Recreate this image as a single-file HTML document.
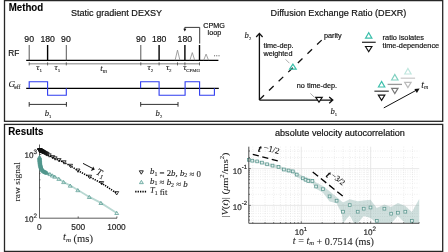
<!DOCTYPE html>
<html><head><meta charset="utf-8"><style>
html,body{margin:0;padding:0;background:#fff;width:448px;height:252px;overflow:hidden}
svg{display:block}
</style></head><body>
<svg width="448" height="252" viewBox="0 0 448 252">
<rect width="448" height="252" fill="#fff"/>
<rect x="4.5" y="0.6" width="438.2" height="120.7" fill="none" stroke="#262626" stroke-width="1.3"/>
<rect x="4.5" y="124.4" width="438.2" height="127.0" fill="none" stroke="#262626" stroke-width="1.3"/>
<text x="8.7" y="10.65" textLength="34.5" lengthAdjust="spacingAndGlyphs" style="font-family:'Liberation Sans',Arial,sans-serif;font-weight:bold;font-size:10.4px" fill="#000" stroke="#000" stroke-width="0.1">Method</text>
<text x="8.3" y="134.75" textLength="35.2" lengthAdjust="spacingAndGlyphs" style="font-family:'Liberation Sans',Arial,sans-serif;font-weight:bold;font-size:10.4px" fill="#000" stroke="#000" stroke-width="0.1">Results</text>
<text x="71" y="15.5" style="font-family:'Liberation Sans',Arial,sans-serif;font-size:9.05px" fill="#111" stroke="#111" stroke-width="0.18">Static gradient DEXSY</text>
<text x="270.6" y="15.7" style="font-family:'Liberation Sans',Arial,sans-serif;font-size:9.1px" fill="#111" stroke="#111" stroke-width="0.18">Diffusion Exchange Ratio (DEXR)</text>
<text x="275" y="136.2" style="font-family:'Liberation Sans',Arial,sans-serif;font-size:9.1px" fill="#111" stroke="#111" stroke-width="0.18">absolute velocity autocorrelation</text>
<g stroke="#000" fill="none">
<line x1="26.2" y1="60.4" x2="218.4" y2="60.4" stroke-width="1.3"/>
<line x1="26.2" y1="88.3" x2="218.8" y2="88.3" stroke-width="1.3"/>
<line x1="29.2" y1="45.0" x2="29.2" y2="60.4" stroke-width="0.9" stroke="#444"/>
<line x1="47.6" y1="45.0" x2="47.6" y2="60.4" stroke-width="1.4" stroke="#000"/>
<line x1="66.3" y1="45.0" x2="66.3" y2="60.4" stroke-width="0.9" stroke="#444"/>
<line x1="140.8" y1="45.0" x2="140.8" y2="60.4" stroke-width="0.9" stroke="#444"/>
<line x1="159.1" y1="45.0" x2="159.1" y2="60.4" stroke-width="1.4" stroke="#000"/>
<line x1="184.9" y1="45.0" x2="184.9" y2="60.4" stroke-width="1.4" stroke="#000"/>
<line x1="199.5" y1="45.0" x2="199.5" y2="60.4" stroke-width="1.4" stroke="#000"/>
</g>
<path d="M175.1,60.2 L177.5,50.1 L179.9,60.2" fill="none" stroke="#8a8a8a" stroke-width="0.8"/>
<path d="M189.9,60.2 L192.3,52.6 L194.70000000000002,60.2" fill="none" stroke="#8a8a8a" stroke-width="0.8"/>
<path d="M203.7,60.2 L206.1,54.1 L208.5,60.2" fill="none" stroke="#8a8a8a" stroke-width="0.8"/>
<circle cx="214.6" cy="55.7" r="0.55" fill="#333"/>
<circle cx="216.8" cy="55.7" r="0.55" fill="#333"/>
<circle cx="219.0" cy="55.7" r="0.55" fill="#333"/>
<text x="29.2" y="41.8" text-anchor="middle" style="font-family:'Liberation Sans',Arial,sans-serif;font-size:8.7px" fill="#111" stroke="#111" stroke-width="0.18">90</text>
<text x="47.7" y="41.8" text-anchor="middle" style="font-family:'Liberation Sans',Arial,sans-serif;font-size:8.7px" fill="#111" stroke="#111" stroke-width="0.18">180</text>
<text x="65.9" y="41.8" text-anchor="middle" style="font-family:'Liberation Sans',Arial,sans-serif;font-size:8.7px" fill="#111" stroke="#111" stroke-width="0.18">90</text>
<text x="140.9" y="41.8" text-anchor="middle" style="font-family:'Liberation Sans',Arial,sans-serif;font-size:8.7px" fill="#111" stroke="#111" stroke-width="0.18">90</text>
<text x="159.2" y="41.8" text-anchor="middle" style="font-family:'Liberation Sans',Arial,sans-serif;font-size:8.7px" fill="#111" stroke="#111" stroke-width="0.18">180</text>
<text x="184.8" y="41.8" text-anchor="middle" style="font-family:'Liberation Sans',Arial,sans-serif;font-size:8.7px" fill="#111" stroke="#111" stroke-width="0.18">180</text>
<text x="8.3" y="55.7" style="font-family:'Liberation Sans',Arial,sans-serif;font-size:8.3px" fill="#111" stroke="#111" stroke-width="0.18">RF</text>
<text x="8.4" y="87.3" style="font-family:'Liberation Serif','Times New Roman',serif;font-size:9.2px" fill="#1a1a1a" stroke="#1a1a1a" stroke-width="0.1"><tspan style="font-style:italic">G</tspan><tspan dx="-0.7" dy="1.5" style="font-size:5.6px">eff</tspan></text>
<path d="M199.7,43.6 V27.4 H184.8 V29.5" fill="none" stroke="#222" stroke-width="0.9"/>
<path d="M183.3,28.7 L184.8,31.6 L186.3,28.7 Z" fill="#111"/>
<text x="214" y="28" text-anchor="middle" style="font-family:'Liberation Sans',Arial,sans-serif;font-size:7.2px" fill="#111" stroke="#111" stroke-width="0.18">CPMG</text>
<text x="214.4" y="34.8" text-anchor="middle" style="font-family:'Liberation Sans',Arial,sans-serif;font-size:7.2px" fill="#111" stroke="#111" stroke-width="0.18">loop</text>
<line x1="29.2" y1="63.7" x2="199.5" y2="63.7" stroke="#ababab" stroke-width="1.5"/>
<line x1="29.2" y1="62.3" x2="29.2" y2="65.4" stroke="#444" stroke-width="0.8"/>
<line x1="47.6" y1="62.3" x2="47.6" y2="65.4" stroke="#444" stroke-width="0.8"/>
<line x1="66.3" y1="62.3" x2="66.3" y2="65.4" stroke="#444" stroke-width="0.8"/>
<line x1="140.8" y1="62.3" x2="140.8" y2="65.4" stroke="#444" stroke-width="0.8"/>
<line x1="159.1" y1="62.3" x2="159.1" y2="65.4" stroke="#444" stroke-width="0.8"/>
<line x1="177.5" y1="62.3" x2="177.5" y2="65.4" stroke="#444" stroke-width="0.8"/>
<line x1="184.9" y1="62.3" x2="184.9" y2="65.4" stroke="#444" stroke-width="0.8"/>
<line x1="199.5" y1="62.3" x2="199.5" y2="65.4" stroke="#444" stroke-width="0.8"/>
<text x="36.3" y="69.6" style="font-family:'Liberation Serif','Times New Roman',serif;font-size:8.6px" fill="#1a1a1a" stroke="#1a1a1a" stroke-width="0.1"><tspan style="font-style:italic">τ</tspan><tspan dy="2.0" style="font-size:5.0px">1</tspan><tspan dy="-2.0"></tspan></text>
<text x="54.6" y="69.6" style="font-family:'Liberation Serif','Times New Roman',serif;font-size:8.6px" fill="#1a1a1a" stroke="#1a1a1a" stroke-width="0.1"><tspan style="font-style:italic">τ</tspan><tspan dy="2.0" style="font-size:5.0px">1</tspan><tspan dy="-2.0"></tspan></text>
<text x="147.6" y="69.6" style="font-family:'Liberation Serif','Times New Roman',serif;font-size:8.6px" fill="#1a1a1a" stroke="#1a1a1a" stroke-width="0.1"><tspan style="font-style:italic">τ</tspan><tspan dy="2.0" style="font-size:5.0px">2</tspan><tspan dy="-2.0"></tspan></text>
<text x="166.0" y="69.6" style="font-family:'Liberation Serif','Times New Roman',serif;font-size:8.6px" fill="#1a1a1a" stroke="#1a1a1a" stroke-width="0.1"><tspan style="font-style:italic">τ</tspan><tspan dy="2.0" style="font-size:5.0px">2</tspan><tspan dy="-2.0"></tspan></text>
<text x="183.2" y="69.6" style="font-family:'Liberation Serif','Times New Roman',serif;font-size:8.6px" fill="#1a1a1a" stroke="#1a1a1a" stroke-width="0.1"><tspan style="font-style:italic">τ</tspan><tspan dy="2.0" style="font-size:4.8px">CPMG</tspan><tspan dy="-2.0"></tspan></text>
<text x="100.2" y="71.3" style="font-family:'Liberation Serif','Times New Roman',serif;font-size:8.8px" fill="#1a1a1a" stroke="#1a1a1a" stroke-width="0.1"><tspan style="font-style:italic">t</tspan><tspan dy="1.3" style="font-size:5.8px;font-style:italic">m</tspan><tspan dy="-1.3"></tspan></text>
<path d="M29.2,88.3 V81.7 H47.6 V95.3 H66.3 V88.3" fill="none" stroke="#2f3cf0" stroke-width="1.1"/>
<path d="M140.6,88.3 V81.7 H159.1 V95.3 H185.1 V81.7 H199.6 V95.3 H214.4 V88.3" fill="none" stroke="#2f3cf0" stroke-width="1.1"/>
<path d="M29.2,104.4 H66.4 M29.2,102 V106.7 M66.4,102 V106.7" fill="none" stroke="#333" stroke-width="1.0"/>
<path d="M140.7,104.4 H178.0 M140.7,102 V106.7 M178.0,102 V106.7" fill="none" stroke="#333" stroke-width="1.0"/>
<text x="44.7" y="115.5" style="font-family:'Liberation Serif','Times New Roman',serif;font-size:8.6px" fill="#1a1a1a" stroke="#1a1a1a" stroke-width="0.1"><tspan style="font-style:italic">b</tspan><tspan dy="2.1" style="font-size:4.6px">1</tspan><tspan dy="-2.1"></tspan></text>
<text x="155.6" y="116.3" style="font-family:'Liberation Serif','Times New Roman',serif;font-size:8.6px" fill="#1a1a1a" stroke="#1a1a1a" stroke-width="0.1"><tspan style="font-style:italic">b</tspan><tspan dy="2.1" style="font-size:4.6px">2</tspan><tspan dy="-2.1"></tspan></text>
<g stroke="#111" fill="none" stroke-width="1.3">
<path d="M259.4,100.1 V33.6 M256.2,37.0 L259.4,33.4 L262.6,37.0"/>
<path d="M259.4,100.1 H332.6 M329.2,96.9 L332.8,100.1 L329.2,103.3"/>
<line x1="259.4" y1="99.7" x2="322.0" y2="39.8" stroke-dasharray="6.4 6.9"/>
</g>
<path d="M285.6,59.4 L289.4,63.2 M310.4,93.4 L314.4,97.3" stroke="#888" stroke-width="0.7" fill="none"/>
<path d="M289.60,69.20 L292.90,64.20 L296.20,69.20 Z" fill="none" stroke="#3cbfab" stroke-width="1.2"/>
<path d="M315.80,97.40 L319.00,102.20 L322.20,97.40 Z" fill="#fff" stroke="#111" stroke-width="1.2"/>
<text x="244.6" y="37.7" style="font-family:'Liberation Serif','Times New Roman',serif;font-size:8.6px" fill="#1a1a1a" stroke="#1a1a1a" stroke-width="0.1"><tspan style="font-style:italic">b</tspan><tspan dy="2.0" style="font-size:4.6px">2</tspan><tspan dy="-2.0"></tspan></text>
<text x="330.4" y="114.2" style="font-family:'Liberation Serif','Times New Roman',serif;font-size:8.6px" fill="#1a1a1a" stroke="#1a1a1a" stroke-width="0.1"><tspan style="font-style:italic">b</tspan><tspan dy="2.0" style="font-size:4.6px">1</tspan><tspan dy="-2.0"></tspan></text>
<text x="263.4" y="47.5" style="font-family:'Liberation Sans',Arial,sans-serif;font-size:7.25px" fill="#111" stroke="#111" stroke-width="0.18">time-dep.</text>
<text x="263.4" y="56.3" style="font-family:'Liberation Sans',Arial,sans-serif;font-size:7.25px" fill="#111" stroke="#111" stroke-width="0.18">weighted</text>
<text x="324.0" y="37.9" style="font-family:'Liberation Sans',Arial,sans-serif;font-size:7.25px" fill="#111" stroke="#111" stroke-width="0.18">parity</text>
<text x="296.8" y="88.3" style="font-family:'Liberation Sans',Arial,sans-serif;font-size:7.25px" fill="#111" stroke="#111" stroke-width="0.18">no time-dep.</text>
<path d="M365.50,38.20 L368.70,32.60 L371.90,38.20 Z" fill="#fff" stroke="#3cbfab" stroke-width="1.2"/>
<line x1="362" y1="42.3" x2="375.7" y2="42.3" stroke="#333" stroke-width="1.3"/>
<path d="M365.50,46.50 L368.70,51.70 L371.90,46.50 Z" fill="#fff" stroke="#111" stroke-width="1.2"/>
<text x="382.6" y="40.1" style="font-family:'Liberation Sans',Arial,sans-serif;font-size:7.38px" fill="#111" stroke="#111" stroke-width="0.18">ratio isolates</text>
<text x="382.6" y="48.2" style="font-family:'Liberation Sans',Arial,sans-serif;font-size:7.32px" fill="#111" stroke="#111" stroke-width="0.18">time-dependence</text>
<path d="M378.40,87.00 L381.60,81.40 L384.80,87.00 Z" fill="#fff" stroke="#3cbfab" stroke-width="1.2"/>
<line x1="374.40000000000003" y1="91.2" x2="388.8" y2="91.2" stroke="#444" stroke-width="1.3"/>
<path d="M378.40,95.20 L381.60,100.40 L384.80,95.20 Z" fill="#fff" stroke="#111" stroke-width="1.2"/>
<path d="M391.60,80.00 L394.80,74.40 L398.00,80.00 Z" fill="#fff" stroke="#7fd0c0" stroke-width="1.2"/>
<line x1="387.6" y1="84.4" x2="402.0" y2="84.4" stroke="#999" stroke-width="1.3"/>
<path d="M391.60,88.30 L394.80,93.50 L398.00,88.30 Z" fill="#fff" stroke="#777" stroke-width="1.2"/>
<path d="M404.70,74.00 L407.90,68.40 L411.10,74.00 Z" fill="#fff" stroke="#bfe6de" stroke-width="1.2"/>
<line x1="400.7" y1="78.2" x2="415.09999999999997" y2="78.2" stroke="#ccc" stroke-width="1.3"/>
<path d="M404.70,82.40 L407.90,87.60 L411.10,82.40 Z" fill="#fff" stroke="#bbb" stroke-width="1.2"/>
<path d="M383.8,107.9 L418.0,89.3" stroke="#111" stroke-width="1.0" fill="none"/>
<path d="M419.6,88.4 L414.4,89.0 L416.9,93.0 Z" fill="#111"/>
<text x="421.3" y="87.8" style="font-family:'Liberation Serif','Times New Roman',serif;font-size:9.9px" fill="#1a1a1a" stroke="#1a1a1a" stroke-width="0.1"><tspan style="font-style:italic">t</tspan><tspan dy="1.3" style="font-size:5.9px;font-style:italic">m</tspan><tspan dy="-1.3"></tspan></text>
<path d="M39.5,144.5 V218.2 H117.0" fill="none" stroke="#404040" stroke-width="0.85"/>
<path d="M39.5,154.4 h1.8 M78.2,218.2 v-1.8 M116.9,218.2 v-1.8" stroke="#262626" stroke-width="0.7"/>
<line x1="39.5" y1="198.99" x2="40.5" y2="198.99" stroke="#262626" stroke-width="0.6"/>
<line x1="39.5" y1="187.76" x2="40.5" y2="187.76" stroke="#262626" stroke-width="0.6"/>
<line x1="39.5" y1="179.79" x2="40.5" y2="179.79" stroke="#262626" stroke-width="0.6"/>
<line x1="39.5" y1="173.61" x2="40.5" y2="173.61" stroke="#262626" stroke-width="0.6"/>
<line x1="39.5" y1="168.55" x2="40.5" y2="168.55" stroke="#262626" stroke-width="0.6"/>
<line x1="39.5" y1="164.28" x2="40.5" y2="164.28" stroke="#262626" stroke-width="0.6"/>
<line x1="39.5" y1="160.58" x2="40.5" y2="160.58" stroke="#262626" stroke-width="0.6"/>
<line x1="39.5" y1="157.32" x2="40.5" y2="157.32" stroke="#262626" stroke-width="0.6"/>
<text x="24.6" y="158.4" style="font-family:'Liberation Sans',Arial,sans-serif;text-rendering:geometricPrecision;font-size:8.1px" fill="#262626" stroke="#262626" stroke-width="0.18">10<tspan dy="-4.2" style="font-size:6.3px">3</tspan></text>
<text x="24.6" y="221.9" style="font-family:'Liberation Sans',Arial,sans-serif;text-rendering:geometricPrecision;font-size:8.1px" fill="#262626" stroke="#262626" stroke-width="0.18">10<tspan dy="-4.2" style="font-size:6.3px">2</tspan></text>
<text x="39.2" y="230.0" text-anchor="middle" style="font-family:'Liberation Sans',Arial,sans-serif;font-size:8.3px" fill="#262626" stroke="#262626" stroke-width="0.18">0</text>
<text x="78.2" y="230.0" text-anchor="middle" style="font-family:'Liberation Sans',Arial,sans-serif;font-size:8.3px" fill="#262626" stroke="#262626" stroke-width="0.18">500</text>
<text x="116.4" y="230.0" text-anchor="middle" style="font-family:'Liberation Sans',Arial,sans-serif;font-size:8.3px" fill="#262626" stroke="#262626" stroke-width="0.18">1000</text>
<text x="63.0" y="240.3" textLength="29.9" lengthAdjust="spacingAndGlyphs" style="font-family:'Liberation Serif','Times New Roman',serif;font-size:9.4px" fill="#262626" stroke="#262626" stroke-width="0.1"><tspan style="font-style:italic">t</tspan><tspan dy="1.4" style="font-size:6.2px;font-style:italic">m</tspan><tspan dy="-1.4"></tspan> (ms)</text>
<text x="0" y="0" textLength="39.3" lengthAdjust="spacingAndGlyphs" transform="translate(20.4,201.4) rotate(-90)" style="font-family:'Liberation Serif','Times New Roman',serif;font-size:9.0px" fill="#262626" stroke="#262626" stroke-width="0.1">raw signal</text>
<polyline points="39.5,157.0 39.7,160 40.0,163 40.6,166 41.5,168.4 42.8,170.3 44.5,171.6 46.9,172.7 49.9,174.0 52.3,175.4 54.7,176.6 58.8,178.8 63.6,182.0 70.2,185.6 77.8,190.1 89.3,196.9 100.9,202.9 116.7,212.9" fill="none" stroke="#b8d8d2" stroke-width="1.8"/>
<path d="M37.55,158.60 L39.50,155.40 L41.45,158.60 Z" fill="none" stroke="#4f958b" stroke-width="0.8"/>
<path d="M37.60,159.29 L39.55,156.09 L41.50,159.29 Z" fill="none" stroke="#4f958b" stroke-width="0.8"/>
<path d="M37.64,159.98 L39.59,156.78 L41.54,159.98 Z" fill="none" stroke="#4f958b" stroke-width="0.8"/>
<path d="M37.69,160.68 L39.64,157.48 L41.59,160.68 Z" fill="none" stroke="#4f958b" stroke-width="0.8"/>
<path d="M37.73,161.37 L39.68,158.17 L41.63,161.37 Z" fill="none" stroke="#4f958b" stroke-width="0.8"/>
<path d="M37.80,162.06 L39.75,158.86 L41.70,162.06 Z" fill="none" stroke="#4f958b" stroke-width="0.8"/>
<path d="M37.86,162.75 L39.81,159.55 L41.76,162.75 Z" fill="none" stroke="#4f958b" stroke-width="0.8"/>
<path d="M37.93,163.44 L39.88,160.24 L41.83,163.44 Z" fill="none" stroke="#4f958b" stroke-width="0.8"/>
<path d="M38.00,164.13 L39.95,160.93 L41.90,164.13 Z" fill="none" stroke="#4f958b" stroke-width="0.8"/>
<path d="M38.09,164.82 L40.04,161.62 L41.99,164.82 Z" fill="none" stroke="#4f958b" stroke-width="0.8"/>
<path d="M38.23,165.50 L40.18,162.30 L42.13,165.50 Z" fill="none" stroke="#4f958b" stroke-width="0.8"/>
<path d="M38.37,166.18 L40.32,162.98 L42.27,166.18 Z" fill="none" stroke="#4f958b" stroke-width="0.8"/>
<path d="M38.50,166.86 L40.45,163.66 L42.40,166.86 Z" fill="none" stroke="#4f958b" stroke-width="0.8"/>
<path d="M38.64,167.54 L40.59,164.34 L42.54,167.54 Z" fill="none" stroke="#4f958b" stroke-width="0.8"/>
<path d="M38.87,168.19 L40.82,164.99 L42.77,168.19 Z" fill="none" stroke="#4f958b" stroke-width="0.8"/>
<path d="M39.11,168.84 L41.06,165.64 L43.01,168.84 Z" fill="none" stroke="#4f958b" stroke-width="0.8"/>
<path d="M39.36,169.49 L41.31,166.29 L43.26,169.49 Z" fill="none" stroke="#4f958b" stroke-width="0.8"/>
<path d="M39.63,170.12 L41.58,166.92 L43.53,170.12 Z" fill="none" stroke="#4f958b" stroke-width="0.8"/>
<path d="M40.02,170.69 L41.97,167.49 L43.92,170.69 Z" fill="none" stroke="#4f958b" stroke-width="0.8"/>
<path d="M40.42,171.27 L42.37,168.07 L44.32,171.27 Z" fill="none" stroke="#4f958b" stroke-width="0.8"/>
<path d="M40.81,171.84 L42.76,168.64 L44.71,171.84 Z" fill="none" stroke="#4f958b" stroke-width="0.8"/>
<path d="M41.34,172.28 L43.29,169.08 L45.24,172.28 Z" fill="none" stroke="#4f958b" stroke-width="0.8"/>
<path d="M41.89,172.70 L43.84,169.50 L45.79,172.70 Z" fill="none" stroke="#4f958b" stroke-width="0.8"/>
<path d="M42.44,173.12 L44.39,169.92 L46.34,173.12 Z" fill="none" stroke="#4f958b" stroke-width="0.8"/>
<path d="M43.06,173.43 L45.01,170.23 L46.96,173.43 Z" fill="none" stroke="#4f958b" stroke-width="0.8"/>
<path d="M43.69,173.72 L45.64,170.52 L47.59,173.72 Z" fill="none" stroke="#4f958b" stroke-width="0.8"/>
<path d="M44.32,174.01 L46.27,170.81 L48.22,174.01 Z" fill="none" stroke="#4f958b" stroke-width="0.8"/>
<path d="M44.95,174.30 L46.90,171.10 L48.85,174.30 Z" fill="none" stroke="#4f958b" stroke-width="0.8"/>
<path d="M47.95,175.60 L49.90,172.40 L51.85,175.60 Z" fill="none" stroke="#5a9c93" stroke-width="0.75"/>
<path d="M50.35,177.00 L52.30,173.80 L54.25,177.00 Z" fill="none" stroke="#5a9c93" stroke-width="0.75"/>
<path d="M52.75,178.20 L54.70,175.00 L56.65,178.20 Z" fill="none" stroke="#5a9c93" stroke-width="0.75"/>
<path d="M56.85,180.40 L58.80,177.20 L60.75,180.40 Z" fill="none" stroke="#5a9c93" stroke-width="0.75"/>
<path d="M61.65,183.60 L63.60,180.40 L65.55,183.60 Z" fill="none" stroke="#5a9c93" stroke-width="0.75"/>
<path d="M68.25,187.20 L70.20,184.00 L72.15,187.20 Z" fill="none" stroke="#5a9c93" stroke-width="0.75"/>
<path d="M75.85,191.70 L77.80,188.50 L79.75,191.70 Z" fill="none" stroke="#5a9c93" stroke-width="0.75"/>
<path d="M87.35,198.50 L89.30,195.30 L91.25,198.50 Z" fill="none" stroke="#5a9c93" stroke-width="0.75"/>
<path d="M98.95,204.50 L100.90,201.30 L102.85,204.50 Z" fill="none" stroke="#5a9c93" stroke-width="0.75"/>
<path d="M114.75,214.50 L116.70,211.30 L118.65,214.50 Z" fill="none" stroke="#5a9c93" stroke-width="0.75"/>
<polyline points="39.5,150.4 44,152.6 49.2,155.5 55.1,158.5 59.1,160.3 64.0,162.4 70.6,166.0 78,170.7 89.6,176.9 101.7,183.2 116.7,193.3" fill="none" stroke="#000" stroke-width="1.6" stroke-dasharray="1.3 1.1"/>
<path d="M37.58,148.74 L39.58,152.14 L41.58,148.74 Z" fill="none" stroke="#111" stroke-width="0.8"/>
<path d="M37.65,148.78 L39.65,152.18 L41.65,148.78 Z" fill="none" stroke="#111" stroke-width="0.8"/>
<path d="M37.73,148.81 L39.73,152.21 L41.73,148.81 Z" fill="none" stroke="#111" stroke-width="0.8"/>
<path d="M37.81,148.85 L39.81,152.25 L41.81,148.85 Z" fill="none" stroke="#111" stroke-width="0.8"/>
<path d="M37.89,148.89 L39.89,152.29 L41.89,148.89 Z" fill="none" stroke="#111" stroke-width="0.8"/>
<path d="M37.96,148.93 L39.96,152.33 L41.96,148.93 Z" fill="none" stroke="#111" stroke-width="0.8"/>
<path d="M38.04,148.96 L40.04,152.36 L42.04,148.96 Z" fill="none" stroke="#111" stroke-width="0.8"/>
<path d="M38.12,149.00 L40.12,152.40 L42.12,149.00 Z" fill="none" stroke="#111" stroke-width="0.8"/>
<path d="M38.27,149.08 L40.27,152.48 L42.27,149.08 Z" fill="none" stroke="#111" stroke-width="0.8"/>
<path d="M38.43,149.15 L40.43,152.55 L42.43,149.15 Z" fill="none" stroke="#111" stroke-width="0.8"/>
<path d="M38.58,149.23 L40.58,152.63 L42.58,149.23 Z" fill="none" stroke="#111" stroke-width="0.8"/>
<path d="M38.74,149.31 L40.74,152.71 L42.74,149.31 Z" fill="none" stroke="#111" stroke-width="0.8"/>
<path d="M38.89,149.38 L40.89,152.78 L42.89,149.38 Z" fill="none" stroke="#111" stroke-width="0.8"/>
<path d="M39.05,149.46 L41.05,152.86 L43.05,149.46 Z" fill="none" stroke="#111" stroke-width="0.8"/>
<path d="M39.28,149.57 L41.28,152.97 L43.28,149.57 Z" fill="none" stroke="#111" stroke-width="0.8"/>
<path d="M39.51,149.68 L41.51,153.08 L43.51,149.68 Z" fill="none" stroke="#111" stroke-width="0.8"/>
<path d="M39.82,149.84 L41.82,153.24 L43.82,149.84 Z" fill="none" stroke="#111" stroke-width="0.8"/>
<path d="M40.21,150.02 L42.21,153.42 L44.21,150.02 Z" fill="none" stroke="#111" stroke-width="0.8"/>
<path d="M40.60,150.21 L42.60,153.61 L44.60,150.21 Z" fill="none" stroke="#111" stroke-width="0.8"/>
<path d="M40.98,150.40 L42.98,153.80 L44.98,150.40 Z" fill="none" stroke="#111" stroke-width="0.8"/>
<path d="M41.37,150.59 L43.37,153.99 L45.37,150.59 Z" fill="none" stroke="#111" stroke-width="0.8"/>
<path d="M42.14,150.98 L44.14,154.38 L46.14,150.98 Z" fill="none" stroke="#111" stroke-width="0.8"/>
<path d="M42.92,151.41 L44.92,154.81 L46.92,151.41 Z" fill="none" stroke="#111" stroke-width="0.8"/>
<path d="M43.69,151.84 L45.69,155.24 L47.69,151.84 Z" fill="none" stroke="#111" stroke-width="0.8"/>
<path d="M44.47,152.28 L46.47,155.68 L48.47,152.28 Z" fill="none" stroke="#111" stroke-width="0.8"/>
<path d="M45.24,152.71 L47.24,156.11 L49.24,152.71 Z" fill="none" stroke="#111" stroke-width="0.8"/>
<path d="M47.20,153.80 L49.20,157.20 L51.20,153.80 Z" fill="none" stroke="#111" stroke-width="0.8"/>
<path d="M50.70,155.58 L52.70,158.98 L54.70,155.58 Z" fill="none" stroke="#111" stroke-width="0.8"/>
<path d="M53.10,156.80 L55.10,160.20 L57.10,156.80 Z" fill="none" stroke="#111" stroke-width="0.8"/>
<path d="M57.10,158.60 L59.10,162.00 L61.10,158.60 Z" fill="none" stroke="#111" stroke-width="0.8"/>
<path d="M62.10,160.75 L64.10,164.15 L66.10,160.75 Z" fill="none" stroke="#111" stroke-width="0.8"/>
<path d="M68.60,164.30 L70.60,167.70 L72.60,164.30 Z" fill="none" stroke="#111" stroke-width="0.8"/>
<path d="M76.00,169.00 L78.00,172.40 L80.00,169.00 Z" fill="none" stroke="#111" stroke-width="0.8"/>
<path d="M87.60,175.20 L89.60,178.60 L91.60,175.20 Z" fill="none" stroke="#111" stroke-width="0.8"/>
<path d="M99.70,181.50 L101.70,184.90 L103.70,181.50 Z" fill="none" stroke="#111" stroke-width="0.8"/>
<path d="M114.70,191.60 L116.70,195.00 L118.70,191.60 Z" fill="none" stroke="#111" stroke-width="0.8"/>
<path d="M83,163.4 L92.6,168.4" fill="none" stroke="#111" stroke-width="1.0"/>
<path d="M94.8,169.5 L90.9,170.9 L93.2,166.6 Z" fill="#111"/>
<text x="0" y="0" transform="translate(95.5,173.8) rotate(28)" style="font-family:'Liberation Serif','Times New Roman',serif;font-size:9.6px" fill="#111" stroke="#111" stroke-width="0.1"><tspan style="font-style:italic">T</tspan><tspan dy="1.8" style="font-size:6.0px">1</tspan><tspan dy="-1.8"></tspan></text>
<path d="M139.30,170.80 L141.30,174.20 L143.30,170.80 Z" fill="#fff" stroke="#111" stroke-width="0.9"/>
<path d="M139.45,183.65 L141.40,180.35 L143.35,183.65 Z" fill="#e6f2f0" stroke="#5c9f95" stroke-width="0.8"/>
<line x1="135.2" y1="191.6" x2="147.0" y2="191.6" stroke="#000" stroke-width="1.6" stroke-dasharray="1.3 1.1"/>
<text x="150" y="174.1" textLength="50.9" lengthAdjust="spacingAndGlyphs" style="font-family:'Liberation Serif','Times New Roman',serif;font-size:8.2px" fill="#1a1a1a" stroke="#1a1a1a" stroke-width="0.1"><tspan style="font-style:italic">b</tspan><tspan dy="1.4" style="font-size:5.4px">1</tspan><tspan dy="-1.4"></tspan> = 2<tspan style="font-style:italic">b</tspan>, <tspan style="font-style:italic">b</tspan><tspan dy="1.4" style="font-size:5.4px">2</tspan><tspan dy="-1.4"></tspan> ≈ 0</text>
<text x="150" y="183.7" textLength="37.8" lengthAdjust="spacingAndGlyphs" style="font-family:'Liberation Serif','Times New Roman',serif;font-size:8.2px" fill="#1a1a1a" stroke="#1a1a1a" stroke-width="0.1"><tspan style="font-style:italic">b</tspan><tspan dy="1.4" style="font-size:5.4px">1</tspan><tspan dy="-1.4"></tspan> ≈ <tspan style="font-style:italic">b</tspan><tspan dy="1.4" style="font-size:5.4px">2</tspan><tspan dy="-1.4"></tspan> ≈ <tspan style="font-style:italic">b</tspan></text>
<text x="150" y="193.2" textLength="17.3" lengthAdjust="spacingAndGlyphs" style="font-family:'Liberation Serif','Times New Roman',serif;font-size:8.2px" fill="#1a1a1a" stroke="#1a1a1a" stroke-width="0.1"><tspan style="font-style:italic">T</tspan><tspan dy="1.4" style="font-size:5.4px">1</tspan><tspan dy="-1.4"></tspan> fit</text>
<line x1="252.80" y1="146.7" x2="252.80" y2="223.3" stroke="#d6d6d6" stroke-width="0.6" stroke-dasharray="0.7 1.6"/>
<line x1="265.02" y1="146.7" x2="265.02" y2="223.3" stroke="#d6d6d6" stroke-width="0.6" stroke-dasharray="0.7 1.6"/>
<line x1="273.68" y1="146.7" x2="273.68" y2="223.3" stroke="#d6d6d6" stroke-width="0.6" stroke-dasharray="0.7 1.6"/>
<line x1="280.41" y1="146.7" x2="280.41" y2="223.3" stroke="#d6d6d6" stroke-width="0.6" stroke-dasharray="0.7 1.6"/>
<line x1="285.90" y1="146.7" x2="285.90" y2="223.3" stroke="#d6d6d6" stroke-width="0.6" stroke-dasharray="0.7 1.6"/>
<line x1="290.54" y1="146.7" x2="290.54" y2="223.3" stroke="#d6d6d6" stroke-width="0.6" stroke-dasharray="0.7 1.6"/>
<line x1="294.57" y1="146.7" x2="294.57" y2="223.3" stroke="#d6d6d6" stroke-width="0.6" stroke-dasharray="0.7 1.6"/>
<line x1="298.12" y1="146.7" x2="298.12" y2="223.3" stroke="#d6d6d6" stroke-width="0.6" stroke-dasharray="0.7 1.6"/>
<line x1="301.29" y1="146.7" x2="301.29" y2="223.3" stroke="#e2e2e2" stroke-width="0.8"/>
<line x1="322.17" y1="146.7" x2="322.17" y2="223.3" stroke="#d6d6d6" stroke-width="0.6" stroke-dasharray="0.7 1.6"/>
<line x1="334.39" y1="146.7" x2="334.39" y2="223.3" stroke="#d6d6d6" stroke-width="0.6" stroke-dasharray="0.7 1.6"/>
<line x1="343.06" y1="146.7" x2="343.06" y2="223.3" stroke="#d6d6d6" stroke-width="0.6" stroke-dasharray="0.7 1.6"/>
<line x1="349.78" y1="146.7" x2="349.78" y2="223.3" stroke="#d6d6d6" stroke-width="0.6" stroke-dasharray="0.7 1.6"/>
<line x1="355.27" y1="146.7" x2="355.27" y2="223.3" stroke="#d6d6d6" stroke-width="0.6" stroke-dasharray="0.7 1.6"/>
<line x1="359.92" y1="146.7" x2="359.92" y2="223.3" stroke="#d6d6d6" stroke-width="0.6" stroke-dasharray="0.7 1.6"/>
<line x1="363.94" y1="146.7" x2="363.94" y2="223.3" stroke="#d6d6d6" stroke-width="0.6" stroke-dasharray="0.7 1.6"/>
<line x1="367.49" y1="146.7" x2="367.49" y2="223.3" stroke="#d6d6d6" stroke-width="0.6" stroke-dasharray="0.7 1.6"/>
<line x1="370.66" y1="146.7" x2="370.66" y2="223.3" stroke="#e2e2e2" stroke-width="0.8"/>
<line x1="391.55" y1="146.7" x2="391.55" y2="223.3" stroke="#d6d6d6" stroke-width="0.6" stroke-dasharray="0.7 1.6"/>
<line x1="403.76" y1="146.7" x2="403.76" y2="223.3" stroke="#d6d6d6" stroke-width="0.6" stroke-dasharray="0.7 1.6"/>
<line x1="412.43" y1="146.7" x2="412.43" y2="223.3" stroke="#d6d6d6" stroke-width="0.6" stroke-dasharray="0.7 1.6"/>
<line x1="248.8" y1="220.04" x2="419.2" y2="220.04" stroke="#d6d6d6" stroke-width="0.6" stroke-dasharray="0.7 1.6"/>
<line x1="248.8" y1="216.48" x2="419.2" y2="216.48" stroke="#d6d6d6" stroke-width="0.6" stroke-dasharray="0.7 1.6"/>
<line x1="248.8" y1="213.56" x2="419.2" y2="213.56" stroke="#d6d6d6" stroke-width="0.6" stroke-dasharray="0.7 1.6"/>
<line x1="248.8" y1="211.10" x2="419.2" y2="211.10" stroke="#d6d6d6" stroke-width="0.6" stroke-dasharray="0.7 1.6"/>
<line x1="248.8" y1="208.97" x2="419.2" y2="208.97" stroke="#d6d6d6" stroke-width="0.6" stroke-dasharray="0.7 1.6"/>
<line x1="248.8" y1="207.08" x2="419.2" y2="207.08" stroke="#d6d6d6" stroke-width="0.6" stroke-dasharray="0.7 1.6"/>
<line x1="248.8" y1="205.40" x2="419.2" y2="205.40" stroke="#e2e2e2" stroke-width="0.8"/>
<line x1="248.8" y1="194.32" x2="419.2" y2="194.32" stroke="#d6d6d6" stroke-width="0.6" stroke-dasharray="0.7 1.6"/>
<line x1="248.8" y1="187.84" x2="419.2" y2="187.84" stroke="#d6d6d6" stroke-width="0.6" stroke-dasharray="0.7 1.6"/>
<line x1="248.8" y1="183.24" x2="419.2" y2="183.24" stroke="#d6d6d6" stroke-width="0.6" stroke-dasharray="0.7 1.6"/>
<line x1="248.8" y1="179.68" x2="419.2" y2="179.68" stroke="#d6d6d6" stroke-width="0.6" stroke-dasharray="0.7 1.6"/>
<line x1="248.8" y1="176.76" x2="419.2" y2="176.76" stroke="#d6d6d6" stroke-width="0.6" stroke-dasharray="0.7 1.6"/>
<line x1="248.8" y1="174.30" x2="419.2" y2="174.30" stroke="#d6d6d6" stroke-width="0.6" stroke-dasharray="0.7 1.6"/>
<line x1="248.8" y1="172.17" x2="419.2" y2="172.17" stroke="#d6d6d6" stroke-width="0.6" stroke-dasharray="0.7 1.6"/>
<line x1="248.8" y1="170.28" x2="419.2" y2="170.28" stroke="#d6d6d6" stroke-width="0.6" stroke-dasharray="0.7 1.6"/>
<line x1="248.8" y1="168.60" x2="419.2" y2="168.60" stroke="#e2e2e2" stroke-width="0.8"/>
<line x1="248.8" y1="157.52" x2="419.2" y2="157.52" stroke="#d6d6d6" stroke-width="0.6" stroke-dasharray="0.7 1.6"/>
<line x1="248.8" y1="151.04" x2="419.2" y2="151.04" stroke="#d6d6d6" stroke-width="0.6" stroke-dasharray="0.7 1.6"/>
<polygon points="248.8,158.6 252.3,159.5 257.2,160.2 261.9,161.3 267.1,162.9 272.5,164.1 278.5,165.3 283.9,167.8 288.6,168.7 292.8,169.5 296.7,172.6 302.8,176.0 305.6,177.0 308.3,178.0 312.4,179.0 316.1,182.5 323.0,186.0 329.6,191.2 336.6,196.9 343.0,202.5 349.7,199.3 357.7,201.3 363.7,200.6 370.5,199.8 376.8,208.0 384.4,204.5 391.2,207.0 397.9,203.0 405.3,206.0 411.9,212.0 419.2,199.0 419.2,223.3 411.9,223.3 405.3,223.3 397.9,216.0 391.2,223.3 384.4,223.3 376.8,223.3 370.5,217.9 363.7,216.0 357.7,223.3 354,223.3 349.7,215.2 343.0,223.3 341.7,213.6 336.6,203.3 329.6,201.5 323.0,192.8 316.1,188.8 312.4,183.6 308.3,183.0 305.6,181.8 302.8,180.2 296.7,176.9 292.8,173.4 288.6,172.4 283.9,171.3 278.5,168.6 272.5,167.2 267.1,165.8 261.9,164.0 257.2,162.7 252.3,161.9 248.8,161.0" fill="#5f958e" fill-opacity="0.3" stroke="none"/>
<rect x="247.40" y="158.40" width="2.8" height="2.8" fill="#e4f0ee" stroke="#5a968e" stroke-width="0.75"/>
<rect x="250.90" y="159.30" width="2.8" height="2.8" fill="#e4f0ee" stroke="#5a968e" stroke-width="0.75"/>
<rect x="255.80" y="160.00" width="2.8" height="2.8" fill="#e4f0ee" stroke="#5a968e" stroke-width="0.75"/>
<rect x="260.50" y="161.20" width="2.8" height="2.8" fill="#e4f0ee" stroke="#5a968e" stroke-width="0.75"/>
<rect x="265.70" y="162.90" width="2.8" height="2.8" fill="#e4f0ee" stroke="#5a968e" stroke-width="0.75"/>
<rect x="271.10" y="164.20" width="2.8" height="2.8" fill="#e4f0ee" stroke="#5a968e" stroke-width="0.75"/>
<rect x="277.10" y="165.50" width="2.8" height="2.8" fill="#e4f0ee" stroke="#5a968e" stroke-width="0.75"/>
<rect x="282.50" y="168.10" width="2.8" height="2.8" fill="#e4f0ee" stroke="#5a968e" stroke-width="0.75"/>
<rect x="287.20" y="169.10" width="2.8" height="2.8" fill="#e4f0ee" stroke="#5a968e" stroke-width="0.75"/>
<rect x="291.40" y="170.00" width="2.8" height="2.8" fill="#e4f0ee" stroke="#5a968e" stroke-width="0.75"/>
<rect x="295.30" y="173.20" width="2.8" height="2.8" fill="#e4f0ee" stroke="#5a968e" stroke-width="0.75"/>
<rect x="301.40" y="176.90" width="2.8" height="2.8" fill="#e4f0ee" stroke="#5a968e" stroke-width="0.75"/>
<rect x="304.20" y="178.30" width="2.8" height="2.8" fill="#e4f0ee" stroke="#5a968e" stroke-width="0.75"/>
<rect x="306.90" y="179.50" width="2.8" height="2.8" fill="#e4f0ee" stroke="#5a968e" stroke-width="0.75"/>
<rect x="311.00" y="179.60" width="2.8" height="2.8" fill="#e4f0ee" stroke="#5a968e" stroke-width="0.75"/>
<rect x="314.70" y="185.10" width="2.8" height="2.8" fill="#e4f0ee" stroke="#5a968e" stroke-width="0.75"/>
<rect x="321.60" y="187.80" width="2.8" height="2.8" fill="#e4f0ee" stroke="#5a968e" stroke-width="0.75"/>
<rect x="328.20" y="195.00" width="2.8" height="2.8" fill="#e4f0ee" stroke="#5a968e" stroke-width="0.75"/>
<rect x="335.20" y="199.30" width="2.8" height="2.8" fill="#e4f0ee" stroke="#5a968e" stroke-width="0.75"/>
<rect x="341.60" y="210.30" width="2.8" height="2.8" fill="#e4f0ee" stroke="#5a968e" stroke-width="0.75"/>
<rect x="348.30" y="203.70" width="2.8" height="2.8" fill="#e4f0ee" stroke="#5a968e" stroke-width="0.75"/>
<rect x="356.30" y="210.30" width="2.8" height="2.8" fill="#e4f0ee" stroke="#5a968e" stroke-width="0.75"/>
<rect x="362.30" y="207.30" width="2.8" height="2.8" fill="#e4f0ee" stroke="#5a968e" stroke-width="0.75"/>
<rect x="369.10" y="206.10" width="2.8" height="2.8" fill="#e4f0ee" stroke="#5a968e" stroke-width="0.75"/>
<rect x="375.40" y="219.40" width="2.8" height="2.8" fill="#e4f0ee" stroke="#5a968e" stroke-width="0.75"/>
<rect x="383.00" y="207.30" width="2.8" height="2.8" fill="#e4f0ee" stroke="#5a968e" stroke-width="0.75"/>
<rect x="389.80" y="212.30" width="2.8" height="2.8" fill="#e4f0ee" stroke="#5a968e" stroke-width="0.75"/>
<rect x="396.50" y="211.30" width="2.8" height="2.8" fill="#e4f0ee" stroke="#5a968e" stroke-width="0.75"/>
<rect x="403.90" y="210.30" width="2.8" height="2.8" fill="#e4f0ee" stroke="#5a968e" stroke-width="0.75"/>
<rect x="410.50" y="219.40" width="2.8" height="2.8" fill="#e4f0ee" stroke="#5a968e" stroke-width="0.75"/>
<line x1="252.8" y1="154.3" x2="278.4" y2="161.0" stroke="#000" stroke-width="1.3" stroke-dasharray="6.2 3.6"/>
<line x1="312.7" y1="172.0" x2="342.7" y2="196.0" stroke="#000" stroke-width="1.3" stroke-dasharray="6.9 3.6"/>
<text transform="translate(257.6,151.6) rotate(14.6)" style="font-family:'Liberation Serif','Times New Roman',serif;font-size:10.5px" fill="#111" stroke="#111" stroke-width="0.1"><tspan style="font-style:italic;font-weight:bold">t</tspan><tspan dx="2.2" dy="-3.0" style="font-size:8.6px">−1/2</tspan></text>
<text transform="translate(325.2,176.2) rotate(37.5)" style="font-family:'Liberation Serif','Times New Roman',serif;font-size:10.5px" fill="#111" stroke="#111" stroke-width="0.1"><tspan style="font-style:italic;font-weight:bold">t</tspan><tspan dx="1.6" dy="-3.0" style="font-size:8.1px">−3/2</tspan></text>
<path d="M248.8,146.7 V223.3 H419.2" fill="none" stroke="#3a3a3a" stroke-width="0.9"/>
<line x1="252.80" y1="223.3" x2="252.80" y2="222.10000000000002" stroke="#262626" stroke-width="0.6"/>
<line x1="265.02" y1="223.3" x2="265.02" y2="222.10000000000002" stroke="#262626" stroke-width="0.6"/>
<line x1="273.68" y1="223.3" x2="273.68" y2="222.10000000000002" stroke="#262626" stroke-width="0.6"/>
<line x1="280.41" y1="223.3" x2="280.41" y2="222.10000000000002" stroke="#262626" stroke-width="0.6"/>
<line x1="285.90" y1="223.3" x2="285.90" y2="222.10000000000002" stroke="#262626" stroke-width="0.6"/>
<line x1="290.54" y1="223.3" x2="290.54" y2="222.10000000000002" stroke="#262626" stroke-width="0.6"/>
<line x1="294.57" y1="223.3" x2="294.57" y2="222.10000000000002" stroke="#262626" stroke-width="0.6"/>
<line x1="298.12" y1="223.3" x2="298.12" y2="222.10000000000002" stroke="#262626" stroke-width="0.6"/>
<line x1="301.29" y1="223.3" x2="301.29" y2="221.3" stroke="#262626" stroke-width="0.6"/>
<line x1="322.17" y1="223.3" x2="322.17" y2="222.10000000000002" stroke="#262626" stroke-width="0.6"/>
<line x1="334.39" y1="223.3" x2="334.39" y2="222.10000000000002" stroke="#262626" stroke-width="0.6"/>
<line x1="343.06" y1="223.3" x2="343.06" y2="222.10000000000002" stroke="#262626" stroke-width="0.6"/>
<line x1="349.78" y1="223.3" x2="349.78" y2="222.10000000000002" stroke="#262626" stroke-width="0.6"/>
<line x1="355.27" y1="223.3" x2="355.27" y2="222.10000000000002" stroke="#262626" stroke-width="0.6"/>
<line x1="359.92" y1="223.3" x2="359.92" y2="222.10000000000002" stroke="#262626" stroke-width="0.6"/>
<line x1="363.94" y1="223.3" x2="363.94" y2="222.10000000000002" stroke="#262626" stroke-width="0.6"/>
<line x1="367.49" y1="223.3" x2="367.49" y2="222.10000000000002" stroke="#262626" stroke-width="0.6"/>
<line x1="370.66" y1="223.3" x2="370.66" y2="221.3" stroke="#262626" stroke-width="0.6"/>
<line x1="391.55" y1="223.3" x2="391.55" y2="222.10000000000002" stroke="#262626" stroke-width="0.6"/>
<line x1="403.76" y1="223.3" x2="403.76" y2="222.10000000000002" stroke="#262626" stroke-width="0.6"/>
<line x1="412.43" y1="223.3" x2="412.43" y2="222.10000000000002" stroke="#262626" stroke-width="0.6"/>
<line x1="419.15" y1="223.3" x2="419.15" y2="222.10000000000002" stroke="#262626" stroke-width="0.6"/>
<line x1="248.8" y1="220.04" x2="250.0" y2="220.04" stroke="#262626" stroke-width="0.6"/>
<line x1="248.8" y1="216.48" x2="250.0" y2="216.48" stroke="#262626" stroke-width="0.6"/>
<line x1="248.8" y1="213.56" x2="250.0" y2="213.56" stroke="#262626" stroke-width="0.6"/>
<line x1="248.8" y1="211.10" x2="250.0" y2="211.10" stroke="#262626" stroke-width="0.6"/>
<line x1="248.8" y1="208.97" x2="250.0" y2="208.97" stroke="#262626" stroke-width="0.6"/>
<line x1="248.8" y1="207.08" x2="250.0" y2="207.08" stroke="#262626" stroke-width="0.6"/>
<line x1="248.8" y1="205.40" x2="250.8" y2="205.40" stroke="#262626" stroke-width="0.6"/>
<line x1="248.8" y1="194.32" x2="250.0" y2="194.32" stroke="#262626" stroke-width="0.6"/>
<line x1="248.8" y1="187.84" x2="250.0" y2="187.84" stroke="#262626" stroke-width="0.6"/>
<line x1="248.8" y1="183.24" x2="250.0" y2="183.24" stroke="#262626" stroke-width="0.6"/>
<line x1="248.8" y1="179.68" x2="250.0" y2="179.68" stroke="#262626" stroke-width="0.6"/>
<line x1="248.8" y1="176.76" x2="250.0" y2="176.76" stroke="#262626" stroke-width="0.6"/>
<line x1="248.8" y1="174.30" x2="250.0" y2="174.30" stroke="#262626" stroke-width="0.6"/>
<line x1="248.8" y1="172.17" x2="250.0" y2="172.17" stroke="#262626" stroke-width="0.6"/>
<line x1="248.8" y1="170.28" x2="250.0" y2="170.28" stroke="#262626" stroke-width="0.6"/>
<line x1="248.8" y1="168.60" x2="250.8" y2="168.60" stroke="#262626" stroke-width="0.6"/>
<line x1="248.8" y1="157.52" x2="250.0" y2="157.52" stroke="#262626" stroke-width="0.6"/>
<line x1="248.8" y1="151.04" x2="250.0" y2="151.04" stroke="#262626" stroke-width="0.6"/>
<text x="232.8" y="173.5" style="font-family:'Liberation Sans',Arial,sans-serif;text-rendering:geometricPrecision;font-size:8.1px" fill="#262626" stroke="#262626" stroke-width="0.18">10<tspan dy="-4.9" style="font-size:5.9px">-1</tspan></text>
<text x="232.8" y="210.0" style="font-family:'Liberation Sans',Arial,sans-serif;text-rendering:geometricPrecision;font-size:8.1px" fill="#262626" stroke="#262626" stroke-width="0.18">10<tspan dy="-4.9" style="font-size:5.9px">-2</tspan></text>
<text x="294.7" y="235.0" style="font-family:'Liberation Sans',Arial,sans-serif;text-rendering:geometricPrecision;font-size:8.1px" fill="#262626" stroke="#262626" stroke-width="0.18">10<tspan dy="-4.2" style="font-size:5.8px">1</tspan></text>
<text x="363.6" y="235.0" style="font-family:'Liberation Sans',Arial,sans-serif;text-rendering:geometricPrecision;font-size:8.1px" fill="#262626" stroke="#262626" stroke-width="0.18">10<tspan dy="-4.2" style="font-size:6.3px">2</tspan></text>
<text x="292.8" y="244.0" textLength="81.0" lengthAdjust="spacingAndGlyphs" style="font-family:'Liberation Serif','Times New Roman',serif;font-size:9.4px" fill="#262626" stroke="#262626" stroke-width="0.1"><tspan style="font-style:italic">t</tspan> = <tspan style="font-style:italic">t</tspan><tspan dy="1.4" style="font-size:6.2px;font-style:italic">m</tspan><tspan dy="-1.4"></tspan> + 0.7514 (ms)</text>
<text x="0" y="0" textLength="65.2" lengthAdjust="spacingAndGlyphs" transform="translate(227.6,217.6) rotate(-90)" style="font-family:'Liberation Serif','Times New Roman',serif;font-size:8.8px" fill="#262626" stroke="#262626" stroke-width="0.1">|<tspan style="font-style:italic">V</tspan>(<tspan style="font-style:italic">t</tspan>)| (<tspan style="font-style:italic">μ</tspan>m<tspan dy="-3.2" style="font-size:5.6px">2</tspan><tspan dy="3.2">/ms</tspan><tspan dy="-3.2" style="font-size:5.6px">2</tspan><tspan dy="3.2">)</tspan></text>
</svg>
</body></html>
